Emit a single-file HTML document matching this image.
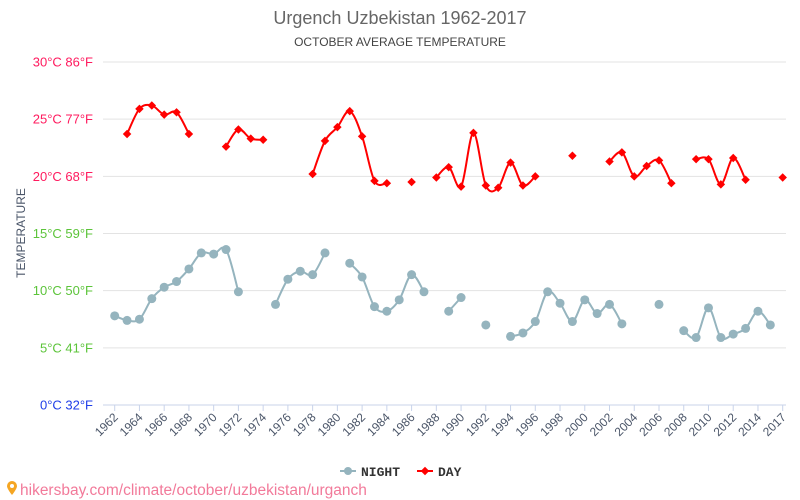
<!DOCTYPE html>
<html><head><meta charset="utf-8"><style>
body{margin:0;background:#fff;width:800px;height:500px;overflow:hidden;font-family:"Liberation Sans",sans-serif}
svg{display:block}
</style></head><body>
<svg id="chart" width="800" height="500" viewBox="0 0 800 500" xmlns="http://www.w3.org/2000/svg">
<text x="400" y="24" text-anchor="middle" font-size="18" fill="#666">Urgench Uzbekistan 1962-2017</text>
<text x="400" y="46" text-anchor="middle" font-size="12" fill="#444">OCTOBER AVERAGE TEMPERATURE</text>
<text transform="translate(25,233) rotate(-90)" text-anchor="middle" font-size="12" fill="#4a5568">TEMPERATURE</text>
<g id="grid"></g><g id="yticks"></g><g id="xticks"></g><g id="series"></g>
<g>
<g><line x1="340" y1="471" x2="356" y2="471" stroke="#95b4be" stroke-width="2"/><circle cx="348" cy="471" r="4" fill="#95b4be"/><text x="361" y="476" font-family="Liberation Mono, monospace" font-weight="bold" font-size="13" fill="#333">NIGHT</text></g>
<g><line x1="417" y1="471" x2="433" y2="471" stroke="#f00" stroke-width="2"/><rect x="422" y="468" width="6" height="6" fill="#f00" transform="rotate(45 425 471)"/><text x="438" y="476" font-family="Liberation Mono, monospace" font-weight="bold" font-size="13" fill="#333">DAY</text></g>
</g>
<g>
<path d="M12 481a5 5 0 0 1 5 5c0 3-5 9-5 9s-5-6-5-9a5 5 0 0 1 5-5z" fill="#f5a623"/><circle cx="12" cy="486" r="2" fill="#fff"/>
<text x="20" y="495" font-size="15.5" fill="#f27a9a">hikersbay.com/climate/october/uzbekistan/urganch</text>
</g>
</svg>
<script>
const categories=[1962,1963,1964,1965,1966,1967,1968,1969,1970,1971,1972,1973,1974,1975,1976,1977,1978,1979,1980,1981,1982,1983,1984,1985,1986,1987,1988,1989,1990,1991,1992,1993,1994,1995,1996,1997,1998,1999,2000,2001,2002,2003,2004,2005,2006,2007,2008,2009,2010,2011,2012,2013,2014,2015,2017];
const dayValues=[null,23.7,25.9,26.2,25.4,25.6,23.7,null,null,22.6,24.1,23.3,23.2,null,null,null,20.2,23.1,24.3,25.7,23.5,19.6,19.4,null,19.5,null,19.9,20.8,19.1,23.8,19.2,19.0,21.2,19.2,20.0,null,null,21.8,null,null,21.3,22.1,20.0,20.9,21.4,19.4,null,21.5,21.5,19.3,21.6,19.7,null,null,19.9];
const nightValues=[7.8,7.4,7.5,9.3,10.3,10.8,11.9,13.3,13.2,13.6,9.9,null,null,8.8,11.0,11.7,11.4,13.3,null,12.4,11.2,8.6,8.2,9.2,11.4,9.9,null,8.2,9.4,null,7.0,null,6.0,6.3,7.3,9.9,8.9,7.3,9.2,8.0,8.8,7.1,null,null,8.8,null,6.5,5.9,8.5,5.9,6.2,6.7,8.2,7.0,null];
const yTicks=[0,5,10,15,20,25,30];
const yTickLabels=["0°C 32°F","5°C 41°F","10°C 50°F","15°C 59°F","20°C 68°F","25°C 77°F","30°C 86°F"];
const yTickColors=["#1f3ee8","#5cc43a","#5cc43a","#5cc43a","#ff1a5e","#ff1a5e","#ff1a5e"];
const NS="http://www.w3.org/2000/svg";
const x0=114.7,x1=782.7,yBase=405,yTop=62;
function xs(i){return x0+i*(x1-x0)/(categories.length-1);}
function ys(v){return yBase-(v/30)*(yBase-yTop);}
function mk(t,a,p){const e=document.createElementNS(NS,t);for(const k in a)e.setAttribute(k,a[k]);p.appendChild(e);return e;}
const grid=document.getElementById('grid'),yt=document.getElementById('yticks'),xt=document.getElementById('xticks'),ser=document.getElementById('series');
yTicks.forEach((v,i)=>{
  const g=mk('line',{x1:103,x2:786,y1:ys(v),y2:ys(v),stroke:v===0?'#c8d3ea':'#e3e3e3','stroke-width':1},grid);
  
  
  const t=mk('text',{x:93,y:ys(v)+4.5,'text-anchor':'end','font-size':13,fill:yTickColors[i]},yt);
  t.textContent=yTickLabels[i];
  
  
});
categories.forEach((c,i)=>{
  if(i%2!==0&&i!==categories.length-1)return;
  const l=mk('line',{x1:xs(i),x2:xs(i),y1:405,y2:411,stroke:'#c8d3ea'},xt);
  
  
  const t=mk('text',{x:xs(i)+4,y:418,'text-anchor':'end','font-size':12,fill:'#4a5568',transform:`rotate(-45 ${xs(i)+4} 418)`},xt);
  t.textContent=c;
  
  
});
function segPath(pts){
  if(pts.length<2)return '';
  let d=`M${pts[0][0]},${pts[0][1]}`;
  for(let i=0;i<pts.length-1;i++){
    const p0=pts[i-1]||pts[i],p1=pts[i],p2=pts[i+1],p3=pts[i+2]||p2;
    const t=1/6;
    d+=` C${p1[0]+(p2[0]-p0[0])*t},${p1[1]+(p2[1]-p0[1])*t} ${p2[0]-(p3[0]-p1[0])*t},${p2[1]-(p3[1]-p1[1])*t} ${p2[0]},${p2[1]}`;
  }
  return d;
}
function drawSeries(vals,color,name,marker){
  let segs=[],cur=[];
  vals.forEach((v,i)=>{if(v==null){if(cur.length)segs.push(cur);cur=[];}else cur.push([xs(i),ys(v)]);});
  if(cur.length)segs.push(cur);
  segs.forEach(s=>{const d=segPath(s);if(d){const p=mk('path',{d:d,fill:'none',stroke:color,'stroke-width':2},ser);
    
    }});
  vals.forEach((v,i)=>{if(v==null)return;let m;
    if(marker==='circle')m=mk('circle',{cx:xs(i),cy:ys(v),r:4.5,fill:color},ser);
    else m=mk('rect',{x:xs(i)-3,y:ys(v)-3,width:6,height:6,fill:color,transform:`rotate(45 ${xs(i)} ${ys(v)})`},ser);
    
    });
}
drawSeries(nightValues,'#95b4be','night','circle');
drawSeries(dayValues,'#ff0000','day','diamond');
</script>
</body></html>
